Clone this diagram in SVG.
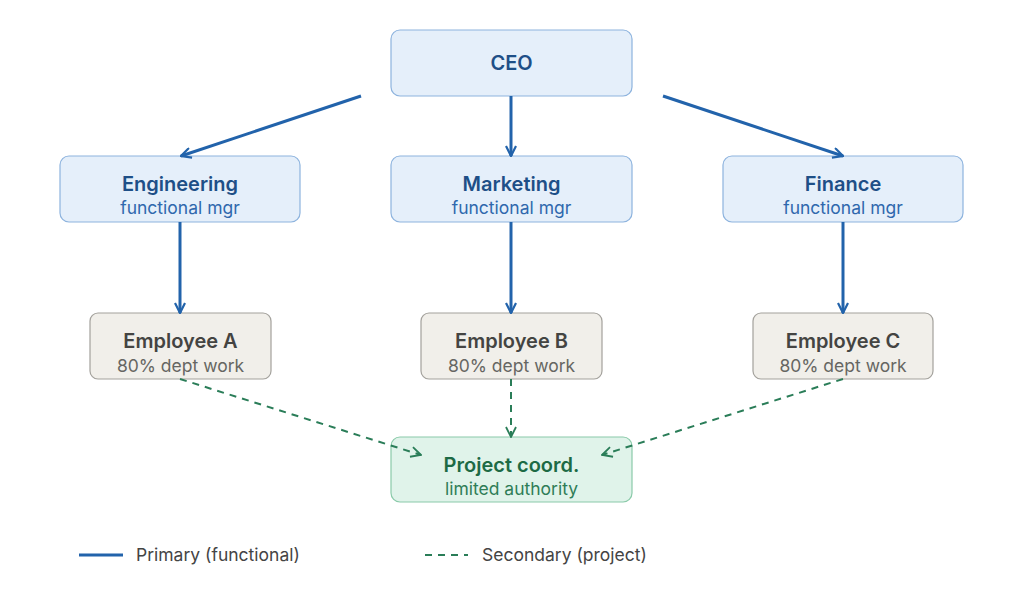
<svg xmlns="http://www.w3.org/2000/svg" width="1024" height="603" viewBox="0 0 1024 603">
<defs>
<style>
.mgr rect{fill:#e5effa;stroke:#8db3de;stroke-width:1.2}
.emp rect{fill:#f1efea;stroke:#a3a19c;stroke-width:1.2}
.prj rect{fill:#e0f3ea;stroke:#8acaa9;stroke-width:1.2}
text{font-family:Inter,"Liberation Sans",sans-serif;text-anchor:middle}
.t{font-size:20px;font-weight:600}
.s{font-size:17.5px}
.mgr .t{fill:#1e4f87}.mgr .s{fill:#2f68ad}
.emp .t{fill:#444442}.emp .s{fill:#666662}
.prj .t{fill:#1d6a45}.prj .s{fill:#2f7d57}
.p{stroke:#2263ab;stroke-width:3;fill:none}
.d{stroke:#2a7d58;stroke-width:2;fill:none;stroke-dasharray:7 6}
.lg{font-size:17.5px;fill:#444;text-anchor:start}
</style>
<marker id="ab" viewBox="0 0 12 12" refX="11" refY="6" markerWidth="12" markerHeight="12" markerUnits="userSpaceOnUse" orient="auto"><path d="M1,1 L11,6 L1,11" fill="none" stroke="#2263ab" stroke-width="2.2"/></marker>
<marker id="ag" viewBox="0 0 12 12" refX="11" refY="6" markerWidth="12" markerHeight="12" markerUnits="userSpaceOnUse" orient="auto"><path d="M1,1 L11,6 L1,11" fill="none" stroke="#2a7d58" stroke-width="1.8"/></marker>
</defs>
<rect width="1024" height="603" fill="#fff"/>
<g id="ceo" class="mgr"><rect x="391" y="30" width="241" height="66" rx="9"/><text class="t" x="511.5" y="70">CEO</text></g>
<g id="engineering" class="mgr"><rect x="60" y="156" width="240" height="66" rx="9"/><text class="t" x="180" y="191">Engineering</text><text class="s" x="180" y="214">functional mgr</text></g>
<g id="marketing" class="mgr"><rect x="391" y="156" width="241" height="66" rx="9"/><text class="t" x="511.5" y="191">Marketing</text><text class="s" x="511.5" y="214">functional mgr</text></g>
<g id="finance" class="mgr"><rect x="723" y="156" width="240" height="66" rx="9"/><text class="t" x="843" y="191">Finance</text><text class="s" x="843" y="214">functional mgr</text></g>
<g id="employee-a" class="emp"><rect x="90" y="313" width="181" height="66" rx="8"/><text class="t" x="180.5" y="348">Employee A</text><text class="s" x="180.5" y="372">80% dept work</text></g>
<g id="employee-b" class="emp"><rect x="421" y="313" width="181" height="66" rx="8"/><text class="t" x="511.5" y="348">Employee B</text><text class="s" x="511.5" y="372">80% dept work</text></g>
<g id="employee-c" class="emp"><rect x="753" y="313" width="180" height="66" rx="8"/><text class="t" x="843" y="348">Employee C</text><text class="s" x="843" y="372">80% dept work</text></g>
<g id="project-coord" class="prj"><rect x="391" y="437" width="241" height="65" rx="9"/><text class="t" x="511.5" y="472">Project coord.</text><text class="s" x="511.5" y="495">limited authority</text></g>
<g id="connectors">
<line class="p" x1="361" y1="96" x2="181" y2="156" marker-end="url(#ab)"/>
<line class="p" x1="511" y1="96" x2="511" y2="156" marker-end="url(#ab)"/>
<line class="p" x1="663" y1="96" x2="843" y2="156" marker-end="url(#ab)"/>
<line class="p" x1="180" y1="222" x2="180" y2="313" marker-end="url(#ab)"/>
<line class="p" x1="511" y1="222" x2="511" y2="313" marker-end="url(#ab)"/>
<line class="p" x1="843" y1="222" x2="843" y2="313" marker-end="url(#ab)"/>
<line class="d" x1="180" y1="379" x2="421" y2="455" marker-end="url(#ag)"/>
<line class="d" x1="511" y1="379" x2="511" y2="437" marker-end="url(#ag)"/>
<line class="d" x1="843" y1="379" x2="602" y2="455" marker-end="url(#ag)"/>
</g>
<g id="legend">
<line x1="79" y1="555" x2="123" y2="555" stroke="#2263ab" stroke-width="3"/>
<text class="lg" x="136" y="561">Primary (functional)</text>
<line x1="425" y1="555" x2="468" y2="555" stroke="#2a7d58" stroke-width="2" stroke-dasharray="7 6"/>
<text class="lg" x="482" y="561">Secondary (project)</text>
</g>
</svg>
